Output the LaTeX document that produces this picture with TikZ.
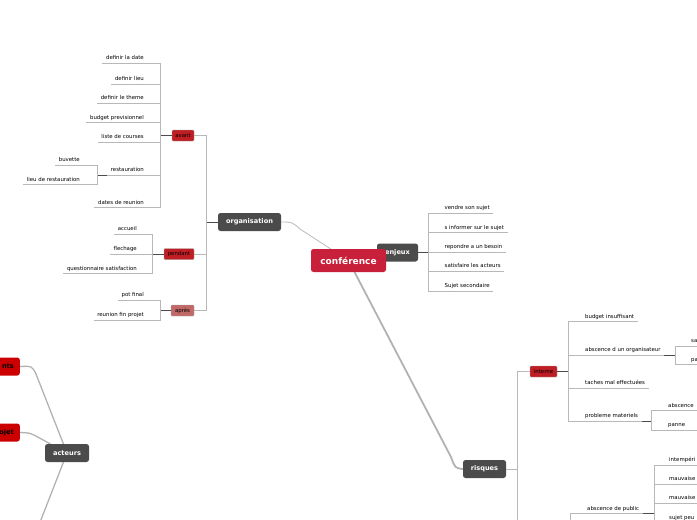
\documentclass[tikz,border=0pt]{standalone}
\usepackage{fontspec}
\setmainfont{DejaVu Sans}
\usetikzlibrary{backgrounds}
\definecolor{confred}{HTML}{C8203A}
\definecolor{topicgray}{HTML}{4B4B4B}
\definecolor{subred}{HTML}{BE1E24}
\definecolor{apresred}{HTML}{C26868}
\definecolor{actred}{HTML}{CC0000}
\definecolor{linegray}{HTML}{B8B8B8}
\begin{document}
\begin{tikzpicture}[x=1pt,y=-1pt,
    every node/.style={font=\fontsize{5.4}{6}\selectfont, inner sep=0pt},
    central/.style={fill=confred, rounded corners=2.5pt, text=white, font=\fontsize{9}{10}\selectfont\bfseries, minimum width=75pt, minimum height=23pt},
    topic/.style={fill=topicgray, rounded corners=2.5pt, text=white, font=\fontsize{6.6}{8}\selectfont\bfseries, minimum height=18pt},
    sub/.style={fill=subred, draw=black!35, rounded corners=1pt, minimum height=11pt},
    actsub/.style={fill=actred, rounded corners=2.5pt, font=\fontsize{6.6}{8}\selectfont\bfseries, minimum height=18pt, anchor=east, text width=40pt, align=right, inner xsep=6pt},
    leafl/.style={anchor=south east, inner xsep=3.5pt, inner ysep=2pt, text height=4pt, text depth=1.2pt},
    leafr/.style={anchor=south west, inner xsep=3.5pt, inner ysep=2pt, text height=4pt, text depth=1.2pt},
    cutleaf/.style={leafr, text width=34pt, align=left},
    tline/.style={draw=linegray, line width=0.7pt},
    stub/.style={draw=black!70, line width=0.9pt},
    alink/.style={draw=black!30, line width=1.3pt, line cap=round}]
  \useasboundingbox (0,0) rectangle (697,520);
  \clip (0,0) rectangle (697,520);

  % main topics
  \node[topic, minimum width=41pt] (enjeux) at (397.5,252.5) {enjeux};
  \node[central] (conf) at (348.5,260.5) {conférence};
  \node[topic, minimum width=63pt] (orga) at (249.5,222) {organisation};
  \node[topic, minimum width=43pt] (risques) at (484.5,469) {risques};
  \node[topic, minimum width=44pt] (acteurs) at (67,453) {acteurs};
  \node[actsub] (nts) at (20,366.5) {nts};
  \node[actsub] (ojet) at (20,432.5) {ojet};
  \coordinate (act3) at (37,530);

  % organisation
  \node[sub, minimum width=22pt] (avant) at (183,135.5) {avant};
  \node[sub, minimum width=30pt] (pendant) at (179,254) {pendant};
  \node[sub, fill=apresred, minimum width=23pt] (apres) at (182.5,310.5) {après};
  \draw[stub] (orga.west) -- ++(-11,0) coordinate (ov);
  \foreach \s in {avant,pendant,apres}
    \draw[tline] (ov) |- (\s.east);

  \draw[stub] (avant.west) -- ++(-11,0) coordinate (av);
  \foreach \t/\y [count=\i] in {definir la date/63, definir lieu/84, definir le theme/103,
      budget previsionnel/122.5, liste de courses/142, restauration/175, dates de reunion/207.5} {
    \node[leafl] (av\i) at (147.5,\y) {\t};
    \draw[tline] (av) |- (av\i.south west);
  }
  \draw[stub] (av6.south west) -- ++(-10,0) coordinate (rv);
  \foreach \t/\y [count=\i] in {buvette/165, lieu de restauration/184.5} {
    \node[leafl] (rs\i) at (83.5,\y) {\t};
    \draw[tline] (rv) |- (rs\i.south west);
  }

  \draw[stub] (pendant.west) -- ++(-11,0) coordinate (pv);
  \foreach \t/\y [count=\i] in {accueil/234, flechage/254, questionnaire satisfaction/273.5} {
    \node[leafl] (pd\i) at (140.5,\y) {\t};
    \draw[tline] (pv) |- (pd\i.south west);
  }

  \draw[stub] (apres.west) -- ++(-10,0) coordinate (apv);
  \foreach \t/\y [count=\i] in {pot final/300, reunion fin projet/320} {
    \node[leafl] (ap\i) at (147.5,\y) {\t};
    \draw[tline] (apv) |- (ap\i.south west);
  }

  % enjeux
  \draw[stub] (enjeux.east) -- ++(10.5,0) coordinate (ev);
  \foreach \t/\y [count=\i] in {vendre son sujet/213, s informer sur le sujet/232.5,
      repondre a un besoin/252, satisfaire les acteurs/271, Sujet secondaire/291} {
    \node[leafr] (en\i) at (441,\y) {\t};
    \draw[tline] (ev) |- (en\i.south east);
  }

  % risques
  \node[sub, minimum width=27pt] (interne) at (543.5,371.5) {interne};
  \draw[tline] (risques.east) -- ++(11,0) coordinate (kv);
  \draw[tline] (kv) |- (interne.west);
  \draw[tline] (kv) -- ++(0,70);

  \draw[stub] (interne.east) -- ++(11,0) coordinate (iv);
  \foreach \t/\y [count=\i] in {budget insuffisant/321.5, abscence d un organisateur/355,
      taches mal effectuées/388, probleme materiels/421} {
    \node[leafr] (in\i) at (581.5,\y) {\t};
    \draw[tline] (iv) |- (in\i.south east);
  }
  \draw[stub] (in2.south east) -- ++(11,0) coordinate (ov2);
  \foreach \t/\y [count=\i] in {sa/346, pa/364.5} {
    \node[cutleaf] (og\i) at (687.5,\y) {\t};
    \draw[tline] (ov2) |- (og\i.south east);
  }
  \draw[stub] (in4.south east) -- ++(10,0) coordinate (mv);
  \foreach \t/\y [count=\i] in {abscence/410.5, panne/430} {
    \node[cutleaf] (ma\i) at (664.5,\y) {\t};
    \draw[tline] (mv) |- (ma\i.south east);
  }

  \coordinate (xv) at (570,540);
  \node[leafr] (pub) at (583.5,513.5) {abscence de public};
  \draw[tline] (xv) |- (pub.south east);
  \draw[stub] (pub.south east) -- ++(11,0) coordinate (bv);
  \foreach \t/\y [count=\i] in {intempéri/465, mauvaise/484, mauvaise/503, sujet peu/522.5} {
    \node[cutleaf] (pb\i) at (665.5,\y) {\t};
    \draw[tline] (bv) |- (pb\i.south east);
  }

  % links from the centre
  \begin{scope}[on background layer]
    \draw[alink, line width=0.9pt, draw=black!25] (conf) -- (300,229) .. controls (292,222) .. (orga.east);
    \draw[alink, line width=1.8pt] (conf) -- (451,457) .. controls (455,468) .. (risques.west);
    \draw[alink] (acteurs) -- (36,374) .. controls (32,366) .. (nts.east);
    \draw[alink] (acteurs) -- (34,435) .. controls (30,433) .. (ojet.east);
    \draw[alink] (acteurs) -- (act3);
  \end{scope}
\end{tikzpicture}
\end{document}
